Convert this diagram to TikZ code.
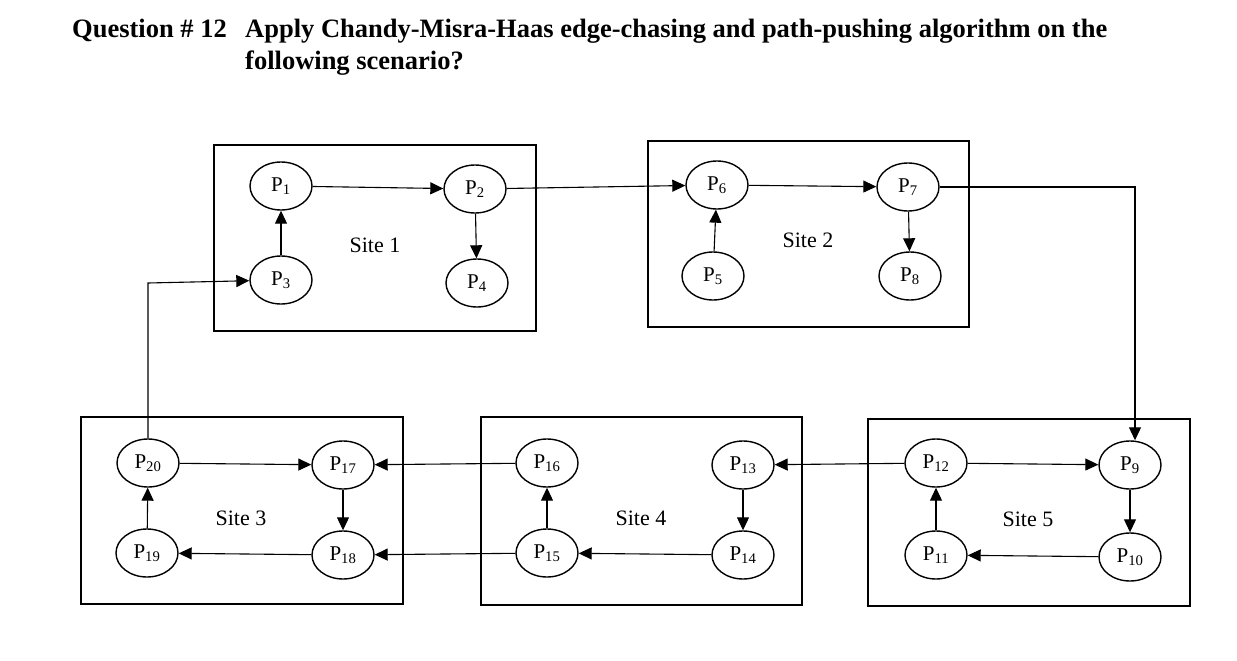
\documentclass[tikz,border=0pt]{standalone}
\usepackage{fontspec}
\setmainfont{Liberation Serif}
\usetikzlibrary{shapes.geometric,arrows.meta}
\begin{document}
\begin{tikzpicture}[x=1pt,y=-1pt,
 p/.style={ellipse,draw,line width=1.4pt,minimum width=62pt,minimum height=48pt,inner sep=0pt,font=\fontsize{21}{22}\selectfont},
 site/.style={draw,line width=1.4pt},
 lab/.style={font=\fontsize{22}{24}\selectfont},
 a/.style={-{Triangle[length=13pt,width=12pt]},line width=1.1pt}]
\useasboundingbox (0,0) rectangle (1237,661);
\node[anchor=base west,font=\bfseries\fontsize{26.5}{32}\selectfont,inner sep=0pt] (q) at (72,38) {Question \# 12};
\node[anchor=base west,align=left,font=\bfseries\fontsize{26.5}{32}\selectfont,inner sep=0pt] (t) at (245,38) {Apply Chandy-Misra-Haas edge-chasing and path-pushing algorithm on the};
\node[anchor=base west,font=\bfseries\fontsize{26.5}{32}\selectfont,inner sep=0pt] (t2) at (245,70) {following scenario?};
\node[site,minimum width=322pt,minimum height=186pt] (s1) at (375,238) {};
\node[site,minimum width=321pt,minimum height=186pt] (s2) at (808.5,234) {};
\node[site,minimum width=322pt,minimum height=187pt] (s3) at (242,510.5) {};
\node[site,minimum width=321pt,minimum height=188pt] (s4) at (641.5,511) {};
\node[site,minimum width=322pt,minimum height=187pt] (s5) at (1029,512.5) {};
\node[lab] (l1) at (375,245) {Site 1};
\node[lab] (l2) at (808,240) {Site 2};
\node[lab] (l3) at (241,518) {Site 3};
\node[lab] (l4) at (641,518) {Site 4};
\node[lab] (l5) at (1028,519) {Site 5};
\node[p] (P1) at (281,186) {P\textsubscript{1}};
\node[p] (P2) at (475,189) {P\textsubscript{2}};
\node[p] (P3) at (281,280) {P\textsubscript{3}};
\node[p] (P4) at (477,283) {P\textsubscript{4}};
\node[p] (P6) at (717,185) {P\textsubscript{6}};
\node[p] (P7) at (908,187) {P\textsubscript{7}};
\node[p] (P5) at (713,276) {P\textsubscript{5}};
\node[p] (P8) at (910,276) {P\textsubscript{8}};
\node[p] (P20) at (148,463) {P\textsubscript{20}};
\node[p] (P17) at (343,465) {P\textsubscript{17}};
\node[p] (P19) at (147,553) {P\textsubscript{19}};
\node[p] (P18) at (343,555) {P\textsubscript{18}};
\node[p] (P16) at (547,463) {P\textsubscript{16}};
\node[p] (P13) at (743,465) {P\textsubscript{13}};
\node[p] (P15) at (547,553) {P\textsubscript{15}};
\node[p] (P14) at (743,555) {P\textsubscript{14}};
\node[p] (P12) at (936,463) {P\textsubscript{12}};
\node[p] (P9) at (1130,465) {P\textsubscript{9}};
\node[p] (P11) at (936,555) {P\textsubscript{11}};
\node[p] (P10) at (1130,557) {P\textsubscript{10}};
\coordinate (c1) at (1135,187);
\coordinate (c2) at (148,283);
\draw[a] (P1) -- (P2);
\draw[a] (P3) -- (P1);
\draw[a] (P2) -- (P4);
\draw[a] (P2) -- (P6);
\draw[a] (P5) -- (P6);
\draw[a] (P6) -- (P7);
\draw[a] (P7) -- (P8);
\draw[a] (P7.east) -- (c1) -- (P9.north -| c1);
\draw[a] (P20) -- (P17);
\draw[a] (P17) -- (P18);
\draw[a] (P19) -- (P20);
\draw[a] (P18) -- (P19);
\draw[a] (P16) -- (P17);
\draw[a] (P15) -- (P16);
\draw[a] (P15) -- (P18);
\draw[a] (P14) -- (P15);
\draw[a] (P13) -- (P14);
\draw[a] (P12) -- (P13);
\draw[a] (P12) -- (P9);
\draw[a] (P9) -- (P10);
\draw[a] (P10) -- (P11);
\draw[a] (P11) -- (P12);
\draw[a] (P20.north) -- (c2) -- (P3);
\end{tikzpicture}
\end{document}
